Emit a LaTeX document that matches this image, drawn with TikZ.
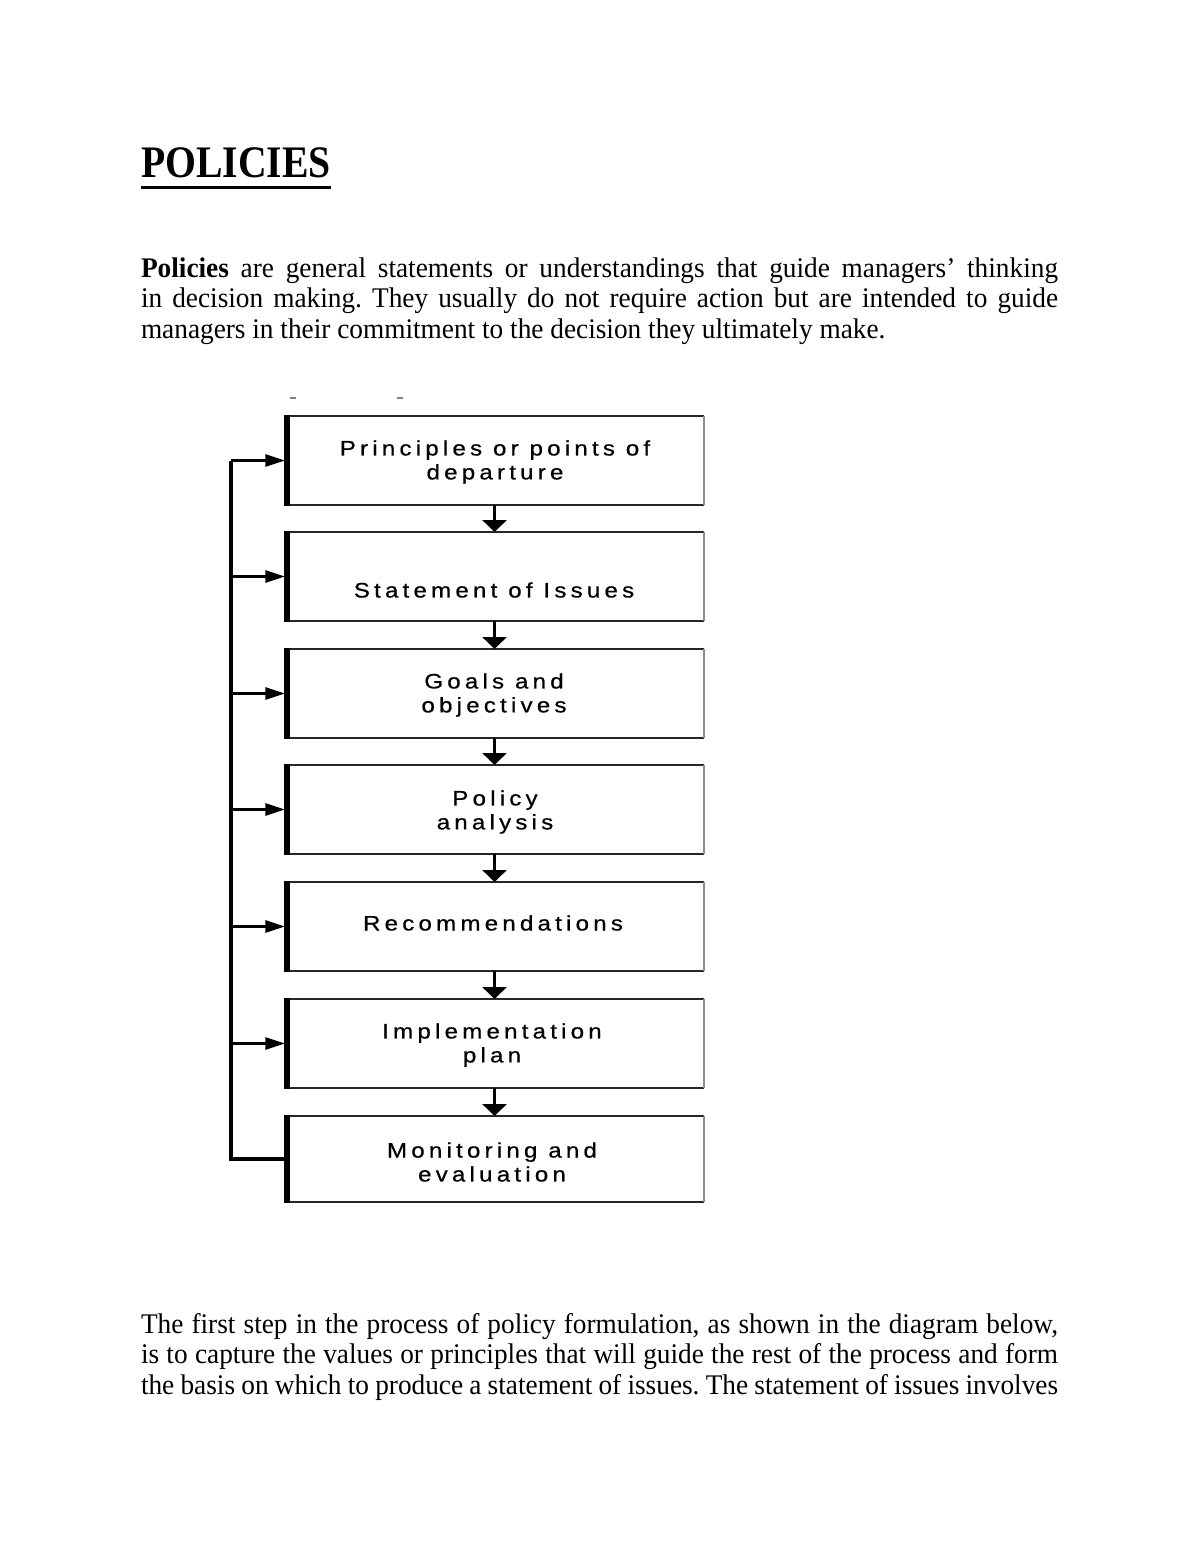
\documentclass[tikz,border=0pt]{standalone}
\usepackage{fontspec}
\setmainfont[FakeStretch=0.96]{Liberation Serif}
\newfontfamily\titlefont[FakeStretch=0.88]{Liberation Serif}
\newfontfamily\boxfont[LetterSpace=20,FakeStretch=1.15,FakeBold=0.6]{Liberation Sans}
\usetikzlibrary{arrows.meta,fit}
\begin{document}
\frenchspacing
\begin{tikzpicture}[x=0.51pt,y=-0.51pt,
  body/.style={inner sep=0pt, outer sep=0pt, text width=467.7pt, align=justify,
    font=\fontsize{14.5}{15.8}\selectfont\frenchspacing},
  boxfit/.style={inner sep=0pt, outer sep=0pt},
  tbline/.style={line width=1.05pt, draw=black!85},
  leftline/.style={line width=3pt, draw=black},
  rightline/.style={line width=0.8pt, draw=black!45},
  boxtext/.style={inner sep=0pt, align=center, font=\boxfont\fontsize{10.7}{12.2}\selectfont},
  downarr/.style={line width=1.5pt, -{Triangle[length=6pt,width=12pt]}},
  feedarr/.style={line width=1.6pt, -{Triangle[length=10pt,width=6pt]}},
  feedline/.style={line width=1.6pt}
]
\fill[white] (0,0) rectangle (1200,1553);
\useasboundingbox (0,0) rectangle (1200,1553);

% title
\node[inner sep=0pt, outer sep=0pt, anchor=base west, font=\titlefont\fontsize{23}{26}\selectfont\bfseries] (title) at (141,178) {POLICIES};
\draw[line width=1.5pt] ([yshift=-5pt]title.base west) -- ([yshift=-5pt]title.base east);

% first paragraph
\node[body, anchor=base west] (p1) at (141,277) {\textbf{Policies} are general statements or understandings that guide managers' thinking\linebreak in decision making. They usually do not require action but are intended to guide\linebreak managers in their commitment to the decision they ultimately make.};

% small marks above the chart
\draw[line width=0.6pt, black!50] (290,398) coordinate (m1) -- (296,398) coordinate (m2);
\draw[line width=0.6pt, black!50] (397,398) coordinate (m3) -- (403,398) coordinate (m4);

% boxes
\foreach \i/\t/\b in {1/416/505, 2/532/621, 3/649/738, 4/765/854, 5/882/971, 6/999/1088, 7/1116/1202} {
  \node[boxfit, fit={(287,\t)(704,\b)}] (b\i) {};
  \draw[tbline] (b\i.north west) -- (b\i.north east);
  \draw[tbline] (b\i.south west) -- (b\i.south east);
  \draw[rightline] (b\i.north east) -- (b\i.south east);
  \draw[leftline] ([yshift=0.5pt]b\i.north west) -- ([yshift=-0.5pt]b\i.south west);
}

% box texts
\node[boxtext] (t1) at (495,462) {Principles or points of\\departure};
\node[boxtext] (t2) at (494,590) {Statement of Issues};
\node[boxtext] (t3) at (494,695) {Goals and\\objectives};
\node[boxtext] (t4) at (495,812) {Policy\\analysis};
\node[boxtext] (t5) at (493,923) {Recommendations};
\node[boxtext] (t6) at (492,1045) {Implementation\\plan};
\node[boxtext] (t7) at (492,1162) {Monitoring and\\evaluation};

% downward arrows
\foreach \i/\j in {1/2, 2/3, 3/4, 4/5, 5/6, 6/7} {
  \draw[downarr] ([xshift=-0.5pt]b\i.south) -- ([xshift=-0.5pt]b\j.north);
}

% feedback loop
\coordinate (fb) at (231,461);
\draw[feedline, line join=miter] (b1.west -| fb) -- (b7.west -| fb) -- (b7.west);
\foreach \i in {1,...,6} {
  \draw[feedarr] (b\i.west -| fb) -- ([xshift=-1pt]b\i.west);
}

% second paragraph
\node[body, anchor=base west] (p2) at (141,1333) {\parfillskip=0pt The first step in the process of policy formulation, as shown in the diagram below,\linebreak is to capture the values or principles that will guide the rest of the process and form\linebreak the basis on which to produce a statement of issues. The statement of issues involves\par};
\end{tikzpicture}
\end{document}
